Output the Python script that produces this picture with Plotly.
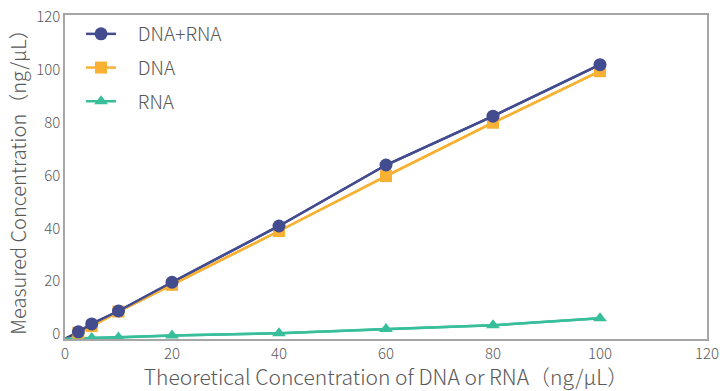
import plotly.graph_objects as go

x_vals = [0, 2.5, 5, 10, 20, 40, 60, 80, 100]
dna_rna = [-1.8, 0.8, 3.8, 8.7, 19.6, 40.9, 64.0, 82.5, 102.0]
dna = [-1.8, 0.5, 3.0, 8.5, 18.6, 39.0, 59.8, 80.0, 99.5]
rna_x = [0, 5, 10, 20, 40, 60, 80, 100]
rna = [-1.8, -1.5, -1.3, -0.6, 0.3, 1.9, 3.3, 6.0]

x_ticks = [0, 20, 40, 60, 80, 100, 120]
y_ticks = [0, 20, 40, 60, 80, 100, 120]

BLUE = "#434C8E"
ORANGE = "#F8B133"
GREEN = "#38BE9B"
TXT = "#595959"
FONT = "Noto Sans CJK SC"

fig = go.Figure()

series = [
    ("DNA", x_vals, dna, ORANGE, "square", 12, "b", 2),
    ("DNA+RNA", x_vals, dna_rna, BLUE, "circle", 13, "a", 1),
    ("RNA", rna_x, rna, GREEN, "triangle-up", 12, "c", 3),
]
# connecting lines from origin (no markers)
for name, xs, ys, col, sym, sz, grp, rank in series:
    fig.add_trace(go.Scatter(x=xs, y=ys, mode="lines", showlegend=False,
                             line=dict(color=col, width=2.5), hoverinfo="skip"))
for name, xs, ys, col, sym, sz, grp, rank in series:
    fig.add_trace(go.Scatter(x=xs[1:], y=ys[1:], name="\u00a0\u00a0\u00a0\u00a0" + name,
                             mode="lines+markers",
                             line=dict(color=col, width=2.5),
                             marker=dict(symbol=sym, size=sz, color=col, line=dict(width=0)),
                             legendgroup=grp, legendrank=rank))

fig.update_layout(
    width=724, height=391,
    margin=dict(l=65, r=17, t=15, b=52),
    paper_bgcolor="white", plot_bgcolor="white",
    font=dict(family=FONT, color=TXT, size=14, weight=300),
    showlegend=True,
    legend=dict(x=0.025, y=1.0, xanchor="left", yanchor="top",
                font=dict(size=19, color=TXT, family=FONT, weight=300),
                tracegroupgap=6, bgcolor="rgba(0,0,0,0)",
                traceorder="grouped"),
    xaxis=dict(range=[0, 120], tickvals=x_ticks, ticktext=[str(v) for v in x_ticks],
               showgrid=False, zeroline=False, showline=True, linecolor="#a6a6a6",
               linewidth=1.5, mirror=True, ticks="", ticklen=0, automargin=False,
               tickfont=dict(size=15, color=TXT, weight=300),
               title=dict(text="Theoretical Concentration of DNA or RNA（ng/μL）",
                          font=dict(size=21, color=TXT, weight=300), standoff=3)),
    yaxis=dict(range=[-1.9, 120.8], tickvals=y_ticks, ticktext=[str(v) for v in y_ticks],
               showgrid=False, zeroline=False, showline=True, linecolor="#a6a6a6",
               linewidth=1.5, mirror=True, ticks="", ticklen=0, automargin=False,
               tickfont=dict(size=15, color=TXT, weight=300),
               title=dict(text="Measured Concentration（ng/μL）",
                          font=dict(size=20, color=TXT, weight=300), standoff=4)),
)

fig.write_html("out.html", config={"displayModeBar": False},
               post_script="document.body.style.margin='0';document.body.style.overflow='hidden';")
